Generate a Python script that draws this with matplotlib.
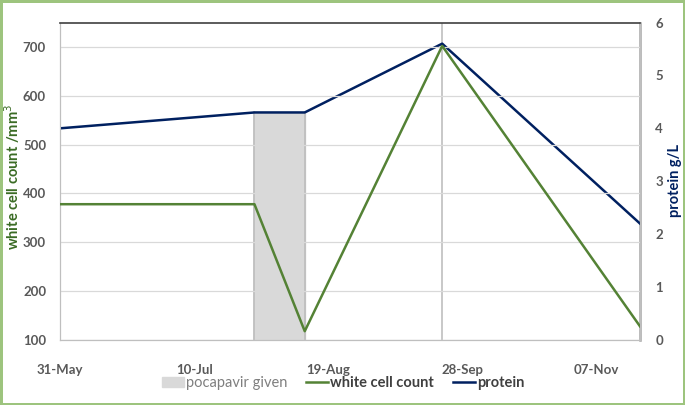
import matplotlib
matplotlib.use("Agg")
from matplotlib import pyplot as plt
import matplotlib.dates as mdates
from matplotlib.patches import Patch
from matplotlib.lines import Line2D
from datetime import date

plt.rcParams['font.family'] = ['Lato', 'DejaVu Sans']

# data
dates = [date(2015, 5, 31), date(2015, 7, 28), date(2015, 8, 12), date(2015, 9, 22), date(2015, 11, 20)]
wbc = [378, 378, 118, 702, 128]
protein = [4.0, 4.3, 4.3, 5.6, 2.2]

poca_dates = [date(2015, 7, 28), date(2015, 8, 12)]
poca_level = [4.3, 4.3]

tick_dates = [date(2015, 5, 31), date(2015, 7, 10), date(2015, 8, 19), date(2015, 9, 28), date(2015, 11, 7)]

green = '#548235'
navy = '#002060'
grey_txt = '#595959'

fig = plt.figure(figsize=(6.85, 4.05), dpi=100)
fig.patch.set_edgecolor('#9DC47E')
fig.patch.set_linewidth(2.5)
ax = fig.add_axes([60/685, 65/405, 580/685, 317.5/405])
ax2 = ax.twinx()

# pocapavir area (secondary axis)
ax2.fill_between(poca_dates, 0, poca_level, color='#D9D9D9', zorder=1)
for d in poca_dates:
    ax2.axvline(d, ymax=poca_level[0]/6, color='#BFBFBF', lw=1.3, zorder=2)
ax2.axvline(dates[3], color='#BFBFBF', lw=1.2, zorder=2)

ax.plot(dates, wbc, color=green, lw=1.8, zorder=5)
ax2.plot(dates, protein, color=navy, lw=1.8, zorder=5)

ax.set_xlim(dates[0], dates[-1])
ax.set_ylim(100, 750)
ax2.set_ylim(0, 6)
ax.set_yticks(range(100, 800, 100))
ax2.set_yticks(range(0, 7))
ax.set_xticks(tick_dates)
ax.xaxis.set_major_formatter(mdates.DateFormatter('%d-%b'))

ax.grid(axis='y', color='#D9D9D9', lw=0.9)
ax.set_axisbelow(True)
ax.set_zorder(ax2.get_zorder() + 1)
ax.patch.set_visible(False)

for a in (ax, ax2):
    a.tick_params(length=0, labelsize=9.5, labelcolor=grey_txt)
    for lab in a.get_xticklabels() + a.get_yticklabels():
        lab.set_fontweight('bold')
    for s in a.spines.values():
        s.set_color('#BFBFBF')
ax.tick_params(axis='x', pad=17)
ax.tick_params(axis='y', pad=10)
ax2.tick_params(axis='y', pad=11)
ax.spines['top'].set_color('#404040')
ax.spines['top'].set_linewidth(1.2)
ax2.spines['top'].set_visible(False)
ax2.spines['right'].set_color('#A6A6A6')
ax2.spines['right'].set_linewidth(1.8)

fig.text(12/685, 1 - 177/405, 'white cell count /mm$^3$', color='#3A6B24', fontsize=10.5,
         fontweight='bold', rotation=90, ha='center', va='center')
fig.text(675/685, 1 - 181/405, 'protein g/L', color=navy, fontsize=10.5,
         fontweight='bold', rotation=90, ha='center', va='center')

handles = [Patch(color='#D9D9D9'), Line2D([], [], color=green, lw=1.8), Line2D([], [], color=navy, lw=1.8)]
leg = fig.legend(handles, ['pocapavir given', 'white cell count', 'protein'], loc='center',
                 bbox_to_anchor=(343/685, 1 - 383/405), ncol=3, frameon=False, fontsize=10.5,
                 handlelength=1.5, handletextpad=0.15, columnspacing=1.3)
texts = leg.get_texts()
texts[0].set_color('#7F7F7F')
for t in texts[1:]:
    t.set_fontweight('bold')
    t.set_color('#404040')

fig.savefig('out.png', dpi=100, edgecolor=fig.get_edgecolor())
